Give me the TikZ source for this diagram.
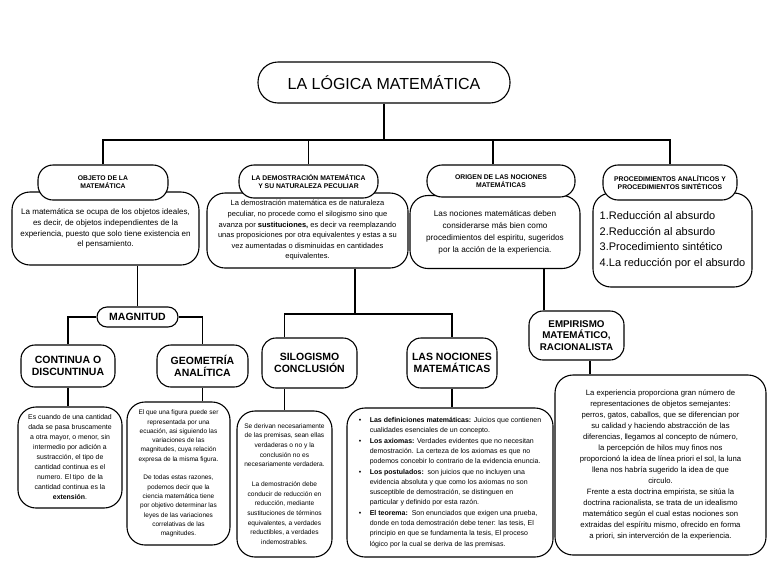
\documentclass[tikz,border=0pt]{standalone}
\usepackage{fontspec}
\setmainfont{Liberation Sans}
\newcommand\fs[2]{\fontsize{#1}{#2}\selectfont}
\newcommand\bitem[1]{\makebox[11pt][l]{\textbullet}#1}
\newcommand\bcont[1]{\hspace*{11pt}#1}
\begin{document}
\begin{tikzpicture}[x=1pt,y=-1pt,
  box/.style={draw, line width=1.1pt, fill=white, rounded corners=18pt, inner sep=0pt, align=center},
  hdr/.style={box, rounded corners=15pt, font=\bfseries\fs{6.8}{8.2}},
  tag/.style={box, rounded corners=14pt, font=\bfseries\fs{10.5}{12.5}},
  conn/.style={line width=1.1pt}]
\useasboundingbox (0,0) rectangle (768,576);
\fill[white] (0,0) rectangle (768,576);

% title
\node[box, rounded corners=20pt, minimum width=252, minimum height=41, font=\fs{16}{18}] (title) at (384,82.5) {LA LÓGICA MATEMÁTICA};

% level 2 bodies
\node[box, minimum width=187, minimum height=73, font=\fs{8}{10.8}] (b1) at (105.5,228.5)
 {La matemática se ocupa de los objetos ideales,\\ es decir, de objetos independientes de la\\ experiencia, puesto que solo tiene existencia en\\ el pensamiento.};
\node[box, minimum width=201, minimum height=75, font=\fs{7.5}{10.6}] (b2) at (307.5,230.5)
 {La demostración matemática es de naturaleza\\ peculiar, no procede como el silogismo sino que\\ avanza por \textbf{sustituciones,} es decir va reemplazando\\ unas proposiciones por otra equivalentes y estas a su\\ vez aumentadas o disminuidas en cantidades\\ equivalentes.};
\node[box, minimum width=170, minimum height=73, font=\fs{8.2}{12}] (b3) at (495,232)
 {Las nociones matemáticas deben\\ considerarse más bien como\\ procedimientos del espiritu, sugeridos\\ por la acción de la experiencia.};
\node[box, align=left, minimum width=159, minimum height=94, font=\fs{11}{15.7}] (b4) at (672.5,240)
 {1.Reducción al absurdo\\ 2.Reducción al absurdo\\ 3.Procedimiento sintético\\ 4.La reducción por el absurdo};

% level 2 headers
\node[hdr, minimum width=130, minimum height=35] (h1) at (103,182.5) {OBJETO DE LA\\ MATEMÁTICA};
\node[hdr, minimum width=139, minimum height=33] (h2) at (308.5,181.5) {LA DEMOSTRACIÓN MATEMÁTICA\\ Y SU NATURALEZA PECULIAR};
\node[hdr, minimum width=148, minimum height=32] (h3) at (501,181) {ORIGEN DE LAS NOCIONES\\ MATEMÁTICAS};
\node[hdr, minimum width=134, minimum height=35] (h4) at (670,182.5) {PROCEDIMIENTOS ANALÍTICOS Y\\ PROCEDIMIENTOS SINTÉTICOS};

% level 3 tags
\node[tag, rounded corners=10pt, minimum width=81, minimum height=20] (mag) at (137.5,317) {MAGNITUD};
\node[tag, minimum width=94, minimum height=42] (cont) at (68,366) {CONTINUA O\\ DISCUNTINUA};
\node[tag, minimum width=91, minimum height=42] (geo) at (202.5,366) {GEOMETRÍA\\ ANALÍTICA};
\node[tag, minimum width=95, minimum height=50] (silog) at (309.5,363) {SILOGISMO\\ CONCLUSIÓN};
\node[tag, minimum width=90, minimum height=50] (noc) at (452,363) {LAS NOCIONES\\ MATEMÁTICAS};
\node[tag, font=\bfseries\fs{9.8}{11.8}, minimum width=95, minimum height=49] (emp) at (576.5,335.5) {EMPIRISMO\\ MATEMÁTICO,\\ RACIONALISTA};

% level 4 bodies
\node[box, minimum width=104, minimum height=101, font=\fs{6.9}{10}] (contb) at (70,457.5)
 {Es cuando de una cantidad\\ dada se pasa bruscamente\\ a otra mayor, o menor, sin\\ intermedio por adición a\\ sustracción, el tipo de\\ cantidad continua es el\\ numero. El tipo\ \ de la\\ cantidad continua es la\\ \textbf{extensión}.};
\node[box, minimum width=103, minimum height=143, font=\fs{6.5}{9.3}] (geob) at (178.5,473.5)
 {El que una figura puede ser\\ representada por una\\ ecuación, asi siguiendo las\\ variaciones de las\\ magnitudes, cuya relación\\ expresa de la misma figura.\\[9.3pt] De todas estas razones,\\ podemos decir que la\\ ciencia matemática tiene\\ por objetivo determinar las\\ leyes de las variaciones\\ correlativas de las\\ magnitudes.};
\node[box, minimum width=95, minimum height=146, font=\fs{6.6}{9.7}] (silb) at (284.5,484)
 {Se derivan necesariamente\\ de las premisas, sean ellas\\ verdaderas o no y la\\ conclusión no es\\ necesariamente verdadera.\\[9.7pt] La demostración debe\\ conducir de reducción en\\ reducción, mediante\\ sustituciones de términos\\ equivalentes, a verdades\\ reductibles, a verdades\\ indemostrables.};
\node[box, align=left, minimum width=206, minimum height=149, font=\fs{7}{10.3}] (nocb) at (450,482.5)
 {\bitem{\textbf{Las definiciones matemáticas:} Juicios que contienen}\\
  \bcont{cualidades esenciales de un concepto.}\\
  \bitem{\textbf{Los axiomas:} Verdades evidentes que no necesitan}\\
  \bcont{demostración. La certeza de los axiomas es que no}\\
  \bcont{podemos concebir lo contrario de la evidencia enuncia.}\\
  \bitem{\textbf{Los postulados:}\ \ son juicios que no incluyen una}\\
  \bcont{evidencia absoluta y que como los axiomas no son}\\
  \bcont{susceptible de demostración, se distinguen en}\\
  \bcont{particular y definido por esta razón.}\\
  \bitem{\textbf{El teorema:}\ \ Son enunciados que exigen una prueba,}\\
  \bcont{donde en toda demostración debe tener: las tesis, El}\\
  \bcont{principio en que se fundamenta la tesis, El proceso}\\
  \bcont{lógico por la cual se deriva de las premisas.}};
\node[box, minimum width=211, minimum height=180, font=\fs{7.7}{11}] (empb) at (660.5,465)
 {La experiencia proporciona gran número de\\ representaciones de objetos semejantes:\\ perros, gatos, caballos, que se diferencian por\\ su calidad y haciendo abstracción de las\\ diferencias, llegamos al concepto de número,\\ la percepción de hilos muy finos nos\\ proporcionó la idea de línea priori el sol, la luna\\ llena nos habría sugerido la idea de que\\ circulo.\\ Frente a esta doctrina empirista, se sitúa la\\ doctrina racionalista, se trata de un idealismo\\ matemático según el cual estas nociones son\\ extraidas del espíritu mismo, ofrecido en forma\\ a priori, sin interverción de la experiencia.};

% connectors
\coordinate (bus) at (384,140);
\draw[conn] (title.south) -- (bus);
\draw[conn] (h1.north) |- (bus) -| (h4.north);
\draw[conn] (h2.north) -- (h2.north |- bus);
\draw[conn] ([xshift=-8pt]h3.north) -- ([xshift=-8pt]h3.north |- bus);

\draw[conn] (b1.south -| mag.north) -- (mag.north);
\draw[conn] (mag.west) -| (cont.north);
\draw[conn] (mag.east) -| (geo.north);
\draw[conn] (cont.south) -- (cont.south |- contb.north);
\draw[conn] (geo.south) -- (geo.south |- geob.north);

\coordinate (j2) at (355,314);
\draw[conn] (b2.south -| j2) -- (j2);
\draw[conn] (silog.north -| silb.north) |- (j2) -| (noc.north);
\draw[conn] (silog.south -| silb.north) -- (silb.north);
\draw[conn] (noc.south) -- (noc.south |- nocb.north);

\draw[conn] ([xshift=-32.5pt]emp.north |- b3.south) -- ([xshift=-32.5pt]emp.north);
\draw[conn] ([xshift=13.5pt]emp.south) -- ([xshift=13.5pt]emp.south |- empb.north);
\end{tikzpicture}
\end{document}
